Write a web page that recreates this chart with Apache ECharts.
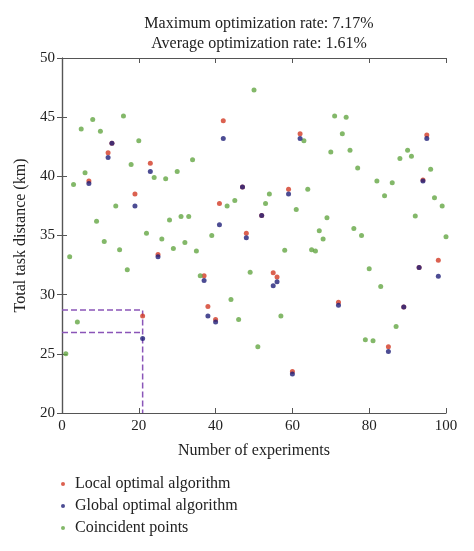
<!DOCTYPE html>
<html>
<head>
<meta charset="utf-8">
<script src="https://cdn.jsdelivr.net/npm/echarts@6/dist/echarts.min.js"></script>
<style>
  html, body { margin: 0; padding: 0; background: #fff; }
  #main { width: 474px; height: 551px; }
</style>
</head>
<body>
<div id="main"></div>
<script>
    // 数据: [实验编号, 总任务距离]
    var localPts = [
        [7, 39.6], [12, 42.0], [13, 42.8], [19, 38.5], [21, 28.2], [23, 41.1], [25, 33.4],
        [37, 31.6], [38, 29.0], [40, 27.9], [41, 37.7], [42, 44.7], [47, 39.1], [48, 35.2],
        [52, 36.7], [55, 31.85], [56, 31.5], [59, 38.9], [60, 23.5], [62, 43.6], [72, 29.35],
        [85, 25.6], [89, 28.95], [93, 32.3], [94, 39.7], [95, 43.5], [98, 32.9]
    ];
    var globalPts = [
        [7, 39.4], [12, 41.6], [13, 42.8], [19, 37.5], [21, 26.3], [23, 40.4], [25, 33.2],
        [37, 31.2], [38, 28.2], [40, 27.7], [41, 35.9], [42, 43.2], [47, 39.1], [48, 34.8],
        [52, 36.7], [55, 30.75], [56, 31.1], [59, 38.5], [60, 23.3], [62, 43.2], [72, 29.1],
        [85, 25.2], [89, 28.95], [93, 32.3], [94, 39.6], [95, 43.2], [98, 31.55]
    ];
    var samePts = [
        [1, 25.0], [2, 33.2], [3, 39.3], [4, 27.7], [5, 44.0], [6, 40.3], [8, 44.8], [9, 36.2],
        [10, 43.8], [11, 34.5], [14, 37.5], [15, 33.8], [16, 45.1], [17, 32.1], [18, 41.0],
        [20, 43.0], [22, 35.2], [24, 39.9], [26, 34.7], [27, 39.8], [28, 36.3], [29, 33.9],
        [30, 40.4], [31, 36.6], [32, 34.4], [33, 36.6], [34, 41.4], [35, 33.7], [36, 31.6],
        [39, 35.0], [43, 37.5], [44, 29.6], [45, 37.95], [46, 27.9], [49, 31.9], [50, 47.3],
        [51, 25.6], [53, 37.7], [54, 38.5], [57, 28.2], [58, 33.75], [61, 37.2], [63, 43.0],
        [64, 38.9], [65, 33.8], [66, 33.7], [67, 35.4], [68, 34.7], [69, 36.5], [70, 42.05],
        [71, 45.1], [73, 43.6], [74, 45.0], [75, 42.2], [76, 35.6], [77, 40.7], [78, 35.0],
        [79, 26.2], [80, 32.2], [81, 26.1], [82, 39.6], [83, 30.7], [84, 38.35], [86, 39.45],
        [87, 27.3], [88, 41.5], [90, 42.2], [91, 41.7], [92, 36.65], [96, 40.6], [97, 38.2],
        [99, 37.5], [100, 34.9]
    ];
    // 虚线标注
    var guideLocal = [[0, 28.7], [21, 28.7], [21, 20]];
    var guideGlobal = [[0, 26.8], [21, 26.8]];

    var seriesNames = ['Local optimal algorithm', 'Global optimal algorithm', 'Coincident points'];
    var titleLines = ['Maximum optimization rate: 7.17%', 'Average optimization rate: 1.61%'];

    var font = 'Liberation Serif';
    var axisColor = '#555';

    var chart = echarts.init(document.getElementById('main'));
    var option = {
        animation: false,
        backgroundColor: '#fff',
        textStyle: { fontFamily: font },
        title: {
            text: titleLines.join('\n'),
            left: 254,
            top: 9,
            textAlign: 'center',
            textStyle: { fontFamily: font, fontSize: 16, fontWeight: 'normal', color: '#222', lineHeight: 20 }
        },
        legend: {
            orient: 'vertical',
            left: 56,
            top: 471,
            itemGap: 6,
            itemWidth: 14,
            itemHeight: 4,
            icon: 'circle',
            data: seriesNames,
            textStyle: { fontFamily: font, fontSize: 16, color: '#222' }
        },
        grid: { left: 62, right: 28, top: 58, bottom: 138 },
        xAxis: [
            {
                type: 'value', min: 0, max: 100, interval: 20,
                name: 'Number of experiments', nameLocation: 'middle', nameGap: 30,
                nameTextStyle: { fontFamily: font, fontSize: 16, color: '#222' },
                axisLine: { show: true, lineStyle: { color: axisColor, width: 1.2 } },
                axisTick: { inside: true, length: 5, lineStyle: { color: axisColor } },
                axisLabel: { fontFamily: font, fontSize: 15, color: '#222', margin: 6 },
                splitLine: { show: false }
            },
            {
                type: 'value', min: 0, max: 100, interval: 20, position: 'top',
                axisLine: { show: true, lineStyle: { color: axisColor, width: 1.2 } },
                axisTick: { inside: true, length: 5, lineStyle: { color: axisColor } },
                axisLabel: { show: false },
                splitLine: { show: false }
            }
        ],
        yAxis: [
            {
                type: 'value', min: 20, max: 50, interval: 5,
                name: 'Total task distance (km)', nameLocation: 'middle', nameGap: 30,
                nameTextStyle: { fontFamily: font, fontSize: 16, color: '#222' },
                axisLine: { show: true, lineStyle: { color: axisColor, width: 1.2 } },
                axisTick: { inside: true, length: 5, lineStyle: { color: axisColor } },
                axisLabel: { fontFamily: font, fontSize: 15, color: '#222', margin: 7 },
                splitLine: { show: false }
            },
            {
                type: 'value', min: 20, max: 50, interval: 5, position: 'right',
                axisLine: { show: true, lineStyle: { color: axisColor, width: 1.2 } },
                axisTick: { inside: true, length: 5, lineStyle: { color: axisColor } },
                axisLabel: { show: false },
                splitLine: { show: false }
            }
        ],
        series: [
            {
                name: seriesNames[0], type: 'scatter', data: localPts,
                symbolSize: 5, itemStyle: { color: '#d23a24' }, z: 3
            },
            {
                name: seriesNames[1], type: 'scatter', data: globalPts,
                symbolSize: 5, itemStyle: { color: '#1f1f78' }, z: 4
            },
            {
                name: seriesNames[2], type: 'scatter', data: samePts,
                symbolSize: 5, itemStyle: { color: '#64a644' }, z: 3
            },
            {
                type: 'line', data: guideLocal, symbol: 'none', silent: true,
                lineStyle: { color: '#8a55b8', width: 1.5, type: [6, 3] }, z: 2
            },
            {
                type: 'line', data: guideGlobal, symbol: 'none', silent: true,
                lineStyle: { color: '#8a55b8', width: 1.5, type: [6, 3] }, z: 2
            }
        ]
    };
    chart.setOption(option);
</script>
</body>
</html>
